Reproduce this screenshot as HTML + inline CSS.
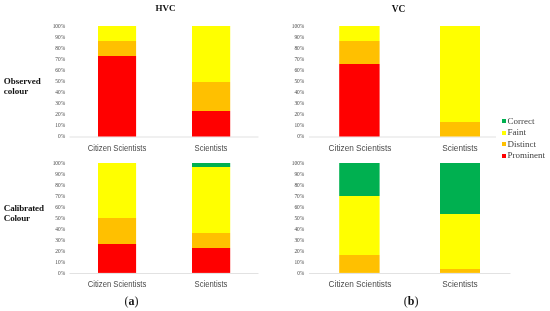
<!DOCTYPE html>
<html><head><meta charset="utf-8"><style>
html,body{margin:0;padding:0;background:#fff;width:550px;height:311px;overflow:hidden}
body{position:relative}
.b{position:absolute}
.ax{position:absolute;height:1px;background:#e2e2e2}
.yl{position:absolute;font-family:"Liberation Serif",serif;font-size:5.4px;line-height:6px;color:#484848;white-space:nowrap}
.cl{position:absolute;width:100px;text-align:center;font-family:"Liberation Sans",sans-serif;font-size:8.2px;line-height:10px;transform:scaleX(0.94);color:#4a4a4a;white-space:nowrap}
.t{position:absolute;font-family:"Liberation Serif",serif;font-weight:bold;font-size:9px;line-height:10px;color:#111;white-space:nowrap}
.leg{position:absolute;left:496px;top:113px;width:54px;height:50px;background:#fff}
.li{position:absolute;left:502px;font-family:"Liberation Serif",serif;font-size:9px;line-height:12px;color:#404040;white-space:nowrap}
.sq{display:inline-block;width:3.6px;height:3.6px;margin-right:2px;vertical-align:0.6px}
.cap{position:absolute;font-family:"Liberation Serif",serif;font-size:12px;line-height:14px;color:#111;white-space:nowrap}
</style></head><body>
<svg width="550" height="311" style="position:absolute;left:0;top:0"><rect x="69.5" y="136.5" width="189.00" height="1" fill="#e2e2e2"/>
<rect x="98" y="26" width="38.10" height="110.50" fill="url(#g1)"/><defs><linearGradient id="g1" gradientUnits="userSpaceOnUse" x1="0" y1="26" x2="0" y2="136.5"><stop offset="0.0000" stop-color="#ffff00"/><stop offset="0.1385" stop-color="#ffff00"/><stop offset="0.1385" stop-color="#ffc000"/><stop offset="0.2688" stop-color="#ffc000"/><stop offset="0.2688" stop-color="#ff0000"/><stop offset="1.0000" stop-color="#ff0000"/></linearGradient></defs>
<rect x="192" y="26" width="38.20" height="110.50" fill="url(#g2)"/><defs><linearGradient id="g2" gradientUnits="userSpaceOnUse" x1="0" y1="26" x2="0" y2="136.5"><stop offset="0.0000" stop-color="#ffff00"/><stop offset="0.5059" stop-color="#ffff00"/><stop offset="0.5059" stop-color="#ffc000"/><stop offset="0.7729" stop-color="#ffc000"/><stop offset="0.7729" stop-color="#ff0000"/><stop offset="1.0000" stop-color="#ff0000"/></linearGradient></defs>
<rect x="309" y="136.5" width="201.50" height="1" fill="#e2e2e2"/>
<rect x="339.2" y="26" width="40.40" height="110.50" fill="url(#g3)"/><defs><linearGradient id="g3" gradientUnits="userSpaceOnUse" x1="0" y1="26" x2="0" y2="136.5"><stop offset="0.0000" stop-color="#ffff00"/><stop offset="0.1376" stop-color="#ffff00"/><stop offset="0.1376" stop-color="#ffc000"/><stop offset="0.3394" stop-color="#ffc000"/><stop offset="0.3394" stop-color="#ff0000"/><stop offset="1.0000" stop-color="#ff0000"/></linearGradient></defs>
<rect x="440" y="26" width="40.00" height="110.50" fill="url(#g4)"/><defs><linearGradient id="g4" gradientUnits="userSpaceOnUse" x1="0" y1="26" x2="0" y2="136.5"><stop offset="0.0000" stop-color="#ffff00"/><stop offset="0.8688" stop-color="#ffff00"/><stop offset="0.8688" stop-color="#ffc000"/><stop offset="1.0000" stop-color="#ffc000"/></linearGradient></defs>
<rect x="69.5" y="273" width="189.00" height="1" fill="#e2e2e2"/>
<rect x="98" y="163" width="38.10" height="109.90" fill="url(#g5)"/><defs><linearGradient id="g5" gradientUnits="userSpaceOnUse" x1="0" y1="163" x2="0" y2="272.9"><stop offset="0.0000" stop-color="#ffff00"/><stop offset="0.5005" stop-color="#ffff00"/><stop offset="0.5005" stop-color="#ffc000"/><stop offset="0.7370" stop-color="#ffc000"/><stop offset="0.7370" stop-color="#ff0000"/><stop offset="1.0000" stop-color="#ff0000"/></linearGradient></defs>
<rect x="192" y="163" width="38.20" height="109.90" fill="url(#g6)"/><defs><linearGradient id="g6" gradientUnits="userSpaceOnUse" x1="0" y1="163" x2="0" y2="272.9"><stop offset="0.0000" stop-color="#00b050"/><stop offset="0.0337" stop-color="#00b050"/><stop offset="0.0337" stop-color="#ffff00"/><stop offset="0.6324" stop-color="#ffff00"/><stop offset="0.6324" stop-color="#ffc000"/><stop offset="0.7716" stop-color="#ffc000"/><stop offset="0.7716" stop-color="#ff0000"/><stop offset="1.0000" stop-color="#ff0000"/></linearGradient></defs>
<rect x="309" y="273" width="201.50" height="1" fill="#e2e2e2"/>
<rect x="339.2" y="163" width="40.40" height="109.90" fill="url(#g7)"/><defs><linearGradient id="g7" gradientUnits="userSpaceOnUse" x1="0" y1="163" x2="0" y2="272.9"><stop offset="0.0000" stop-color="#00b050"/><stop offset="0.3003" stop-color="#00b050"/><stop offset="0.3003" stop-color="#ffff00"/><stop offset="0.8371" stop-color="#ffff00"/><stop offset="0.8371" stop-color="#ffc000"/><stop offset="1.0000" stop-color="#ffc000"/></linearGradient></defs>
<rect x="440" y="163" width="40.00" height="109.90" fill="url(#g8)"/><defs><linearGradient id="g8" gradientUnits="userSpaceOnUse" x1="0" y1="163" x2="0" y2="272.9"><stop offset="0.0000" stop-color="#00b050"/><stop offset="0.4659" stop-color="#00b050"/><stop offset="0.4659" stop-color="#ffff00"/><stop offset="0.9663" stop-color="#ffff00"/><stop offset="0.9663" stop-color="#ffc000"/><stop offset="1.0000" stop-color="#ffc000"/></linearGradient></defs></svg>
<div class="yl" style="right:484.8px;top:22.70px">100%</div>
<div class="yl" style="right:484.8px;top:33.71px">90%</div>
<div class="yl" style="right:484.8px;top:44.72px">80%</div>
<div class="yl" style="right:484.8px;top:55.73px">70%</div>
<div class="yl" style="right:484.8px;top:66.74px">60%</div>
<div class="yl" style="right:484.8px;top:77.75px">50%</div>
<div class="yl" style="right:484.8px;top:88.76px">40%</div>
<div class="yl" style="right:484.8px;top:99.77px">30%</div>
<div class="yl" style="right:484.8px;top:110.78px">20%</div>
<div class="yl" style="right:484.8px;top:121.79px">10%</div>
<div class="yl" style="right:484.8px;top:132.80px">0%</div>
<div class="cl" style="left:67px;top:144px;transform:scaleX(0.94);font-size:8.2px">Citizen Scientists</div>
<div class="cl" style="left:161px;top:144px;transform:scaleX(0.94);font-size:8.2px">Scientists</div>
<div class="yl" style="right:245.7px;top:22.70px">100%</div>
<div class="yl" style="right:245.7px;top:33.71px">90%</div>
<div class="yl" style="right:245.7px;top:44.72px">80%</div>
<div class="yl" style="right:245.7px;top:55.73px">70%</div>
<div class="yl" style="right:245.7px;top:66.74px">60%</div>
<div class="yl" style="right:245.7px;top:77.75px">50%</div>
<div class="yl" style="right:245.7px;top:88.76px">40%</div>
<div class="yl" style="right:245.7px;top:99.77px">30%</div>
<div class="yl" style="right:245.7px;top:110.78px">20%</div>
<div class="yl" style="right:245.7px;top:121.79px">10%</div>
<div class="yl" style="right:245.7px;top:132.80px">0%</div>
<div class="cl" style="left:309.5px;top:142.6px;transform:scaleX(0.96);font-size:8.6px">Citizen Scientists</div>
<div class="cl" style="left:410px;top:142.6px;transform:scaleX(0.96);font-size:8.6px">Scientists</div>
<div class="yl" style="right:484.8px;top:159.90px">100%</div>
<div class="yl" style="right:484.8px;top:170.89px">90%</div>
<div class="yl" style="right:484.8px;top:181.88px">80%</div>
<div class="yl" style="right:484.8px;top:192.87px">70%</div>
<div class="yl" style="right:484.8px;top:203.86px">60%</div>
<div class="yl" style="right:484.8px;top:214.85px">50%</div>
<div class="yl" style="right:484.8px;top:225.84px">40%</div>
<div class="yl" style="right:484.8px;top:236.83px">30%</div>
<div class="yl" style="right:484.8px;top:247.82px">20%</div>
<div class="yl" style="right:484.8px;top:258.81px">10%</div>
<div class="yl" style="right:484.8px;top:269.80px">0%</div>
<div class="cl" style="left:67px;top:279.7px;transform:scaleX(0.94);font-size:8.2px">Citizen Scientists</div>
<div class="cl" style="left:161px;top:279.7px;transform:scaleX(0.94);font-size:8.2px">Scientists</div>
<div class="yl" style="right:245.7px;top:159.90px">100%</div>
<div class="yl" style="right:245.7px;top:170.89px">90%</div>
<div class="yl" style="right:245.7px;top:181.88px">80%</div>
<div class="yl" style="right:245.7px;top:192.87px">70%</div>
<div class="yl" style="right:245.7px;top:203.86px">60%</div>
<div class="yl" style="right:245.7px;top:214.85px">50%</div>
<div class="yl" style="right:245.7px;top:225.84px">40%</div>
<div class="yl" style="right:245.7px;top:236.83px">30%</div>
<div class="yl" style="right:245.7px;top:247.82px">20%</div>
<div class="yl" style="right:245.7px;top:258.81px">10%</div>
<div class="yl" style="right:245.7px;top:269.80px">0%</div>
<div class="cl" style="left:309.5px;top:278.6px;transform:scaleX(0.96);font-size:8.6px">Citizen Scientists</div>
<div class="cl" style="left:410px;top:278.6px;transform:scaleX(0.96);font-size:8.6px">Scientists</div>
<div class="t" style="left:155.5px;top:3px">HVC</div>
<div class="t" style="left:391.7px;top:3px;font-size:9.4px;transform:translateY(0.6px)">VC</div>
<div class="t" style="left:3.8px;top:76px">Observed<br>colour</div>
<div class="t" style="left:3.8px;top:203.3px;letter-spacing:-0.15px">Calibrated<br>Colour</div>
<div class="leg"></div>
<div class="li" style="top:114.60px"><span class="sq" style="background:#00b050"></span>Correct</div>
<div class="li" style="top:126.10px"><span class="sq" style="background:#ffff00"></span>Faint</div>
<div class="li" style="top:137.60px"><span class="sq" style="background:#ffc000"></span>Distinct</div>
<div class="li" style="top:149.10px"><span class="sq" style="background:#ff0000"></span>Prominent</div>
<div class="cap" style="left:124.5px;top:294px">(<b>a</b>)</div>
<div class="cap" style="left:403.7px;top:294px">(<b>b</b>)</div>
</body></html>
